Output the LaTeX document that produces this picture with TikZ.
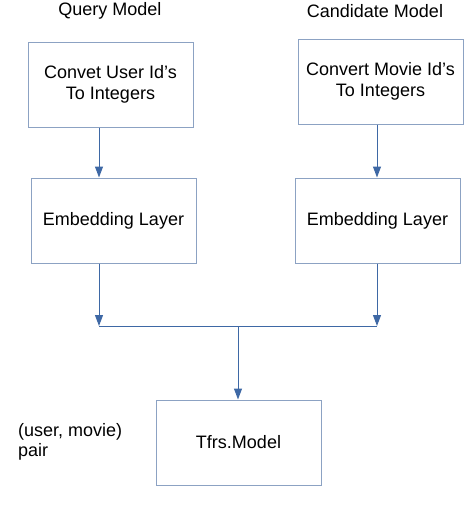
\documentclass[tikz,border=0pt]{standalone}
\usepackage{fontspec}
\setmainfont{Liberation Sans}
\usetikzlibrary{arrows.meta}
\definecolor{boxc}{RGB}{140,162,195}
\definecolor{arrc}{RGB}{62,104,165}
\tikzset{
  box/.style={draw=boxc, line width=1pt, minimum width=165pt, minimum height=85pt, inner sep=0pt, align=center, font=\fontsize{18}{21}\selectfont, text=black},
  lbl/.style={inner sep=0pt, font=\fontsize{18}{20}\selectfont, text=black},
  arr/.style={draw=arrc, line width=1pt, -{Triangle[length=11pt,width=8pt]}, fill=arrc},
  ln/.style={draw=arrc, line width=1pt}
}
\begin{document}
\begin{tikzpicture}[x=1pt,y=-1pt]
\useasboundingbox (0,0) rectangle (474,509);
\node[lbl] (tq) at (110,11) {Query Model};
\node[lbl] (tc) at (375,11) {Candidate Model};
\node[box] (q1) at (110.5,84.5) {Convet User Id\char"0027 s\\To Integers};
\node[box] (c1) at (380.5,81.5) {Convert Movie Id\char"0027 s\\To Integers};
\node[box] (q2) at (113.5,220.5) {Embedding Layer};
\node[box] (c2) at (377.5,220.5) {Embedding Layer};
\node[box] (m) at (238.5,442.5) {Tfrs.Model};
\node[lbl, anchor=west, align=left] (pair) at (18,442) {(user, movie)\\pair};
\coordinate (lx) at (99,326);
\coordinate (rx) at (377,326);
\coordinate (mx) at (238,326);
\draw[arr] (q1.south -| lx) -- (q2.north -| lx);
\draw[arr] (c1.south -| rx) -- (c2.north -| rx);
\draw[arr] (q2.south -| lx) -- (lx);
\draw[arr] (c2.south -| rx) -- (rx);
\draw[ln] (lx) -- (rx);
\draw[arr] (mx) -- (m.north -| mx);
\end{tikzpicture}
\end{document}
